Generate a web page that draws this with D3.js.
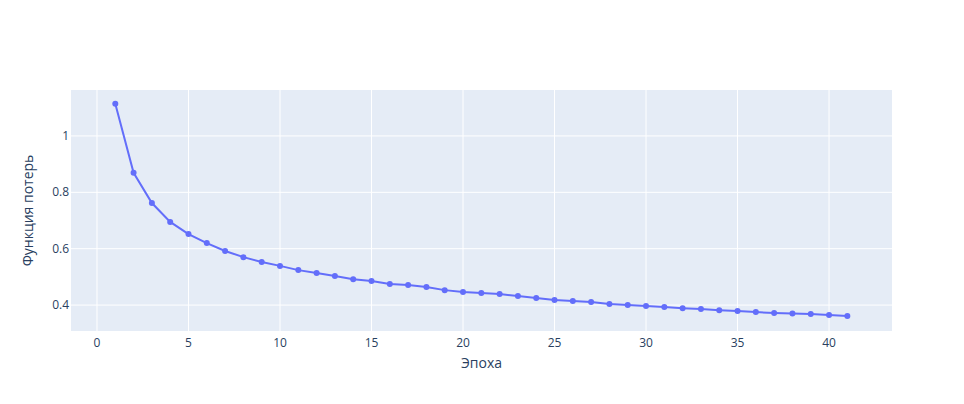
<!DOCTYPE html>
<html>
<head>
<meta charset="utf-8">
<script src="https://cdn.jsdelivr.net/npm/d3@7"></script>
<style>
body { margin: 0; background: #fff; }
text { font-family: "Open Sans", sans-serif; fill: #2a3f5f; }
</style>
</head>
<body>
<div id="chart"></div>
<script>
const epochs = d3.range(1, 42);
const losses = [1.114, 0.869, 0.762, 0.695, 0.652, 0.620, 0.592, 0.570, 0.553, 0.539,
  0.524, 0.514, 0.503, 0.492, 0.485, 0.475, 0.471, 0.464, 0.453, 0.446,
  0.443, 0.439, 0.432, 0.425, 0.418, 0.414, 0.411, 0.404, 0.400, 0.397,
  0.393, 0.389, 0.386, 0.382, 0.379, 0.375, 0.372, 0.370, 0.368, 0.365, 0.361];
const xTicks = [0, 5, 10, 15, 20, 25, 30, 35, 40];
const yTicks = [0.4, 0.6, 0.8, 1];

const margin = {top: 90, right: 72, bottom: 73, left: 71};
const width = 964 - margin.left - margin.right;
const height = 404 - margin.top - margin.bottom;

const svg = d3.select("#chart").append("svg")
    .attr("width", 964).attr("height", 404)
    .append("g")
    .attr("transform", `translate(${margin.left},${margin.top})`);

const x = d3.scaleLinear().domain([-1.42, 43.44]).range([0, width]);
const y = d3.scaleLinear().domain([0.308, 1.163]).range([height, 0]);

svg.append("rect").attr("width", width).attr("height", height).attr("fill", "#e5ecf6");

svg.selectAll(".gx").data(xTicks).enter().append("line")
    .attr("x1", d => x(d)).attr("x2", d => x(d))
    .attr("y1", 0).attr("y2", height)
    .attr("stroke", "#fff").attr("stroke-width", 1);
svg.selectAll(".gy").data(yTicks).enter().append("line")
    .attr("x1", 0).attr("x2", width)
    .attr("y1", d => y(d)).attr("y2", d => y(d))
    .attr("stroke", "#fff").attr("stroke-width", 1);

svg.selectAll(".tx").data(xTicks).enter().append("text")
    .attr("x", d => x(d)).attr("y", height + 16)
    .attr("text-anchor", "middle").attr("font-size", 12)
    .text(d => d);
svg.selectAll(".ty").data(yTicks).enter().append("text")
    .attr("x", -2).attr("y", d => y(d) + 4)
    .attr("text-anchor", "end").attr("font-size", 12)
    .text(d => d);

const data = epochs.map((e, i) => ({e: e, v: losses[i]}));

svg.append("path").datum(data)
    .attr("fill", "none").attr("stroke", "#636efa").attr("stroke-width", 2)
    .attr("d", d3.line().x(d => x(d.e)).y(d => y(d.v)));

svg.selectAll(".pt").data(data).enter().append("circle")
    .attr("cx", d => x(d.e)).attr("cy", d => y(d.v)).attr("r", 3)
    .attr("fill", "#636efa");

svg.append("text")
    .attr("x", width / 2).attr("y", height + 37)
    .attr("text-anchor", "middle").attr("font-size", 14)
    .text("Эпоха");

svg.append("text")
    .attr("transform", "rotate(-90)")
    .attr("x", -height / 2).attr("y", -38)
    .attr("text-anchor", "middle").attr("font-size", 14)
    .text("Функция потерь");
</script>
</body>
</html>
